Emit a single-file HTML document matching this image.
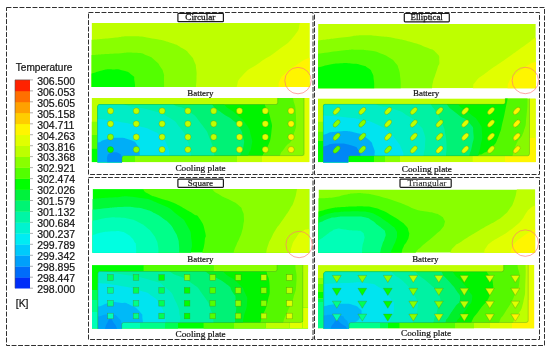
<!DOCTYPE html>
<html lang="en">
<head>
<meta charset="utf-8">
<title>Temperature contours</title>
<style>
html,body{margin:0;padding:0;background:#fff;}
body{width:550px;height:353px;overflow:hidden;}
svg{display:block;}
.sans{font-family:"Liberation Sans",sans-serif;}
.serif{font-family:"Liberation Serif",serif;}
</style>
</head>
<body>
<svg width="550" height="353" viewBox="0 0 550 353">
<defs>
<clipPath id="cbTL"><rect x="91.6" y="23" width="218" height="64"/></clipPath>
<clipPath id="cbTR"><rect x="318.1" y="24" width="217.7" height="64.3"/></clipPath>
<clipPath id="cbBL"><rect x="92.6" y="189.1" width="216.6" height="63.7"/></clipPath>
<clipPath id="cbBR"><rect x="318.5" y="189.5" width="216.6" height="63.2"/></clipPath>
<clipPath id="cpTL"><rect x="91.6" y="98" width="217.9" height="64.2"/></clipPath>
<clipPath id="ccTL"><path d="M99.6 104.5H275.7Q277.7 104.5 277.7 102.5V96H304V153.6Q304 155.6 302 155.6H124Q122 155.6 122 157.6V164.2H97.6V106.5Q97.6 104.5 99.6 104.5Z"/></clipPath>
<clipPath id="cpTR"><rect x="318" y="98.4" width="217.8" height="63.8"/></clipPath>
<clipPath id="ccTR"><path d="M325.3 104.3H503.3Q505.3 104.3 505.3 102.3V96.4H529.5V153.8Q529.5 155.8 527.5 155.8H350.2Q348.2 155.8 348.2 157.8V164.2H323.3V106.3Q323.3 104.3 325.3 104.3Z"/></clipPath>
<clipPath id="cpBL"><rect x="92" y="265.1" width="216.2" height="63.7"/></clipPath>
<clipPath id="ccBL"><path d="M99.9 271.5H275Q277 271.5 277 269.5V263.1H302.8V320.5Q302.8 322.5 300.8 322.5H123.7Q121.7 322.5 121.7 324.5V330.8H97.9V273.5Q97.9 271.5 99.9 271.5Z"/></clipPath>
<clipPath id="cpBR"><rect x="318" y="265.1" width="216.3" height="63.4"/></clipPath>
<clipPath id="ccBR"><path d="M325.7 271.7H501.7Q503.7 271.7 503.7 269.7V263.1H528.2V320.5Q528.2 322.5 526.2 322.5H351Q349 322.5 349 324.5V330.5H323.7V273.7Q323.7 271.7 325.7 271.7Z"/></clipPath>
</defs>
<rect width="550" height="353" fill="#fff"/>
<g id="frames">
<rect x="6.5" y="7.5" width="538" height="338" stroke="#303030" stroke-width="1" fill="none" stroke-dasharray="4.9 1.6"/>
<rect x="88.5" y="12.5" width="224.5" height="162" stroke="#303030" stroke-width="1" fill="none" stroke-dasharray="4.9 1.6"/>
<rect x="314.5" y="12.5" width="225" height="162" stroke="#303030" stroke-width="1" fill="none" stroke-dasharray="4.9 1.6"/>
<rect x="88.5" y="177.5" width="224.5" height="162" stroke="#303030" stroke-width="1" fill="none" stroke-dasharray="4.9 1.6"/>
<rect x="314.5" y="177.5" width="225" height="162" stroke="#303030" stroke-width="1" fill="none" stroke-dasharray="4.9 1.6"/>
</g>
<g id="legend">
<rect x="15" y="277.2" width="15" height="11.3" fill="#002df8"/>
<rect x="15" y="266.3" width="15" height="11.3" fill="#006cfa"/>
<rect x="15" y="255.3" width="15" height="11.3" fill="#00a0fb"/>
<rect x="15" y="244.3" width="15" height="11.3" fill="#00cafb"/>
<rect x="15" y="233.4" width="15" height="11.3" fill="#00ecf3"/>
<rect x="15" y="222.4" width="15" height="11.3" fill="#00f3d0"/>
<rect x="15" y="211.5" width="15" height="11.3" fill="#00f6a5"/>
<rect x="15" y="200.5" width="15" height="11.3" fill="#00f473"/>
<rect x="15" y="189.5" width="15" height="11.3" fill="#00f23c"/>
<rect x="15" y="178.6" width="15" height="11.3" fill="#00ff00"/>
<rect x="15" y="167.6" width="15" height="11.3" fill="#53ff00"/>
<rect x="15" y="156.6" width="15" height="11.3" fill="#89ff00"/>
<rect x="15" y="145.7" width="15" height="11.3" fill="#beff00"/>
<rect x="15" y="134.7" width="15" height="11.3" fill="#e1ff00"/>
<rect x="15" y="123.8" width="15" height="11.3" fill="#fff500"/>
<rect x="15" y="112.8" width="15" height="11.3" fill="#ffcd00"/>
<rect x="15" y="101.8" width="15" height="11.3" fill="#ffa100"/>
<rect x="15" y="90.9" width="15" height="11.3" fill="#ff6f00"/>
<rect x="15" y="79.9" width="15" height="11.3" fill="#ff2200"/>
<path d="M15 288.2V79.9H30" stroke="#555" stroke-width="0.6" fill="none"/>
<path d="M30 79.9h3" stroke="#777" stroke-width="0.6"/>
<text class="sans" x="37.2" y="84.7" font-size="10.5" fill="#111" stroke="#111" stroke-width="0.2">306.500</text>
<path d="M30 90.9h3" stroke="#777" stroke-width="0.6"/>
<text class="sans" x="37.2" y="95.7" font-size="10.5" fill="#111" stroke="#111" stroke-width="0.2">306.053</text>
<path d="M30 101.8h3" stroke="#777" stroke-width="0.6"/>
<text class="sans" x="37.2" y="106.6" font-size="10.5" fill="#111" stroke="#111" stroke-width="0.2">305.605</text>
<path d="M30 112.8h3" stroke="#777" stroke-width="0.6"/>
<text class="sans" x="37.2" y="117.6" font-size="10.5" fill="#111" stroke="#111" stroke-width="0.2">305.158</text>
<path d="M30 123.8h3" stroke="#777" stroke-width="0.6"/>
<text class="sans" x="37.2" y="128.6" font-size="10.5" fill="#111" stroke="#111" stroke-width="0.2">304.711</text>
<path d="M30 134.7h3" stroke="#777" stroke-width="0.6"/>
<text class="sans" x="37.2" y="139.5" font-size="10.5" fill="#111" stroke="#111" stroke-width="0.2">304.263</text>
<path d="M30 145.7h3" stroke="#777" stroke-width="0.6"/>
<text class="sans" x="37.2" y="150.5" font-size="10.5" fill="#111" stroke="#111" stroke-width="0.2">303.816</text>
<path d="M30 156.6h3" stroke="#777" stroke-width="0.6"/>
<text class="sans" x="37.2" y="161.4" font-size="10.5" fill="#111" stroke="#111" stroke-width="0.2">303.368</text>
<path d="M30 167.6h3" stroke="#777" stroke-width="0.6"/>
<text class="sans" x="37.2" y="172.4" font-size="10.5" fill="#111" stroke="#111" stroke-width="0.2">302.921</text>
<path d="M30 178.6h3" stroke="#777" stroke-width="0.6"/>
<text class="sans" x="37.2" y="183.4" font-size="10.5" fill="#111" stroke="#111" stroke-width="0.2">302.474</text>
<path d="M30 189.5h3" stroke="#777" stroke-width="0.6"/>
<text class="sans" x="37.2" y="194.3" font-size="10.5" fill="#111" stroke="#111" stroke-width="0.2">302.026</text>
<path d="M30 200.5h3" stroke="#777" stroke-width="0.6"/>
<text class="sans" x="37.2" y="205.3" font-size="10.5" fill="#111" stroke="#111" stroke-width="0.2">301.579</text>
<path d="M30 211.5h3" stroke="#777" stroke-width="0.6"/>
<text class="sans" x="37.2" y="216.3" font-size="10.5" fill="#111" stroke="#111" stroke-width="0.2">301.132</text>
<path d="M30 222.4h3" stroke="#777" stroke-width="0.6"/>
<text class="sans" x="37.2" y="227.2" font-size="10.5" fill="#111" stroke="#111" stroke-width="0.2">300.684</text>
<path d="M30 233.4h3" stroke="#777" stroke-width="0.6"/>
<text class="sans" x="37.2" y="238.2" font-size="10.5" fill="#111" stroke="#111" stroke-width="0.2">300.237</text>
<path d="M30 244.3h3" stroke="#777" stroke-width="0.6"/>
<text class="sans" x="37.2" y="249.1" font-size="10.5" fill="#111" stroke="#111" stroke-width="0.2">299.789</text>
<path d="M30 255.3h3" stroke="#777" stroke-width="0.6"/>
<text class="sans" x="37.2" y="260.1" font-size="10.5" fill="#111" stroke="#111" stroke-width="0.2">299.342</text>
<path d="M30 266.3h3" stroke="#777" stroke-width="0.6"/>
<text class="sans" x="37.2" y="271.1" font-size="10.5" fill="#111" stroke="#111" stroke-width="0.2">298.895</text>
<path d="M30 277.2h3" stroke="#777" stroke-width="0.6"/>
<text class="sans" x="37.2" y="282" font-size="10.5" fill="#111" stroke="#111" stroke-width="0.2">298.447</text>
<path d="M30 288.2h3" stroke="#777" stroke-width="0.6"/>
<text class="sans" x="37.2" y="293" font-size="10.5" fill="#111" stroke="#111" stroke-width="0.2">298.000</text>
<text class="sans" x="15.8" y="70.5" font-size="10.1" fill="#111" stroke="#111" stroke-width="0.2">Temperature</text>
<text class="sans" x="15.8" y="307.2" font-size="10.4" fill="#111" stroke="#111" stroke-width="0.2">[K]</text>
</g>
<g id="batTL" clip-path="url(#cbTL)">
<rect x="91.6" y="23" width="218" height="64" fill="#beff00"/>
<path fill="#89ff00" d="M86 40C87.9 39.9 83 40.5 91.7 39.8C100.4 39.1 98.2 39.2 112 38C125.8 36.8 119.7 36.1 133 36.3C146.3 36.5 139.8 36.5 152 38.5C164.2 40.5 159.6 39.2 169.6 42.4C179.6 45.6 175.2 43.9 182 48C188.8 52.1 185.8 50 190 54.7C194.2 59.4 192.4 57.2 194.5 62C196.6 66.8 195.5 63.7 196.2 69C196.9 74.3 196.6 72 196.5 78C196.4 84 196.2 82 196 87C195.8 92 196 91 196 93L80 93Z"/>
<path fill="#53ff00" d="M86 55.3C87.9 55.2 82 55.7 91.7 55.1C101.4 54.5 100.6 54.3 115 53.5C129.4 52.7 124.3 52 135 52.7C145.7 53.4 140.2 52.8 147 55.5C153.8 58.2 150.8 57 155.3 60.8C159.8 64.6 157.8 62.9 160.5 67C163.2 71.1 162.3 68.7 163.5 73C164.7 77.3 163.8 73.3 164 80C164.2 86.7 164 88.7 164 93L80 93Z"/>
<path fill="#00ff00" d="M86 74C87.9 73.8 86.4 74.7 91.7 73.5C97 72.3 95.1 71.9 102 70.5C108.9 69.1 105.5 69.4 112.5 69.4C119.5 69.4 116.5 68.6 123 70.5C129.5 72.4 128.1 71.6 131.9 75.1C135.7 78.6 133.5 75 134.5 81C135.5 87 134.8 89 135 93L80 93Z"/>
<path fill="#e1ff00" d="M300.5 17C300.3 19 302.2 16.6 300 23C297.8 29.4 301.4 27.1 293.9 36.3C286.4 45.5 289.2 41.7 277.6 50.6C266 59.5 270.8 54.7 259.2 62.9C247.6 71.1 250.4 67.1 242.9 75.1C235.4 83.1 239 81 236.7 87C234.4 93 236.2 91 236 93L320 93L320 17Z"/>
<path fill="#fff500" d="M316 57C313.9 57.3 315.6 55.5 309.6 57.8C303.6 60.1 306 58.8 298 63.9C290 69 291.7 67.6 285.7 73C279.7 78.4 282.4 75.3 280 80C277.6 84.7 279.1 82.7 278.6 87C278.1 91.3 278.5 91 278.5 93L320 93Z"/>
</g>
<circle cx="298" cy="80.6" r="13.2" fill="none" stroke="#ff7474" stroke-width="0.65"/>
<g id="batTR" clip-path="url(#cbTR)">
<rect x="318.1" y="24" width="217.7" height="64.3" fill="#beff00"/>
<path fill="#89ff00" d="M312 40.6C314 40.5 307.2 41.5 318.1 40.4C329 39.3 329.6 39 344.6 37.3C359.6 35.6 351.2 35.6 363 35.3C374.8 35 369.1 35.3 380 36.3C390.9 37.3 385.3 36.5 395.6 38.4C405.9 40.3 400.9 39 411 42C421.1 45 417.6 43.7 426 47.3C434.4 50.9 431.8 48.2 436.2 52.7C440.6 57.2 438.9 55.7 439.3 60.8C439.7 65.9 438.9 63.2 437.5 68C436.1 72.8 436.7 70.4 435.2 75.1C433.7 79.8 434 77.7 433 82C432 86.3 432.4 84 432.1 88C431.8 92 432 92 432 94L310 94Z"/>
<path fill="#53ff00" d="M312 54C314 53.9 307.2 55 318.1 53.7C329 52.4 331.6 51.5 344.6 50.2C357.6 48.9 348.8 49.6 357 49.7C365.2 49.8 361.4 49.4 369.1 50.6C376.8 51.8 373.2 50.8 380 53.2C386.8 55.6 384.3 54.5 389.5 57.8C394.7 61.1 392.4 59.3 395.5 63C398.6 66.7 397.1 64 398.7 69C400.3 74 399.6 71.7 400.3 78C401 84.3 400.6 82.7 400.7 88C400.8 93.3 400.7 92 400.7 94L310 94Z"/>
<path fill="#00ff00" d="M312 67.6C314 67.5 312.4 68.2 318.1 67.3C323.8 66.4 321.5 66.1 329 64.8C336.5 63.5 333.2 63.7 340.5 63.3C347.8 62.9 344.2 63 351 63.5C357.8 64 355.3 63.4 361 64.9C366.7 66.4 364.3 65.3 368 68C371.7 70.7 370.3 69 372.2 73C374.1 77 373.1 75 373.8 80C374.5 85 374.1 83.3 374.2 88C374.3 92.7 374.2 92 374.2 94L310 94Z"/>
<path fill="#e1ff00" d="M542 36.6C540.1 36.8 541.5 34.7 536.2 37.3C530.9 39.9 535.5 37.7 526 44.5C516.5 51.3 520.5 48.6 507.6 57.8C494.7 67 497.7 64.2 487.2 72C476.7 79.8 480.7 75.9 476 81.2C471.3 86.5 474.2 83.7 473 88C471.8 92.3 472.7 92 472.5 94L545 94Z"/>
<path fill="#fff500" d="M542 61C540.1 61.3 541.5 60 536.2 61.8C530.9 63.6 533.5 61.7 526 66.5C518.5 71.3 519.5 70.9 513.8 76.1C508.1 81.3 511.1 78 509 82C506.9 86 508.1 84 507.6 88C507.1 92 507.5 92 507.5 94L545 94Z"/>
</g>
<circle cx="525.3" cy="80.5" r="13.2" fill="none" stroke="#ff7474" stroke-width="0.65"/>
<g id="batBL" clip-path="url(#cbBL)">
<rect x="92.6" y="189.1" width="216.6" height="63.7" fill="#00ff00"/>
<path fill="#00fa36" d="M86 199.2C88.2 199.1 83.8 199.6 92.5 199C101.2 198.4 97.5 198.1 112 197.5C126.5 196.9 120 195.1 136 197.3C152 199.5 146.3 198.3 160 204C173.7 209.7 167.8 207.2 177 214.5C186.2 221.8 182.7 217.5 187.5 226C192.3 234.5 190.3 231.2 191.5 240C192.7 248.8 191.2 246.3 191 252.3C190.8 258.3 191 256.1 191 258L80 258Z"/>
<path fill="#00ff89" d="M86 209.6C88.2 209.6 85 210.1 92.5 209.5C100 208.9 98.6 208.7 108.4 207.9C118.2 207.1 113.2 207.2 122 207C130.8 206.8 126.9 206.6 134.9 207.4C142.9 208.2 139.2 207.4 146 209.5C152.8 211.6 149.6 210.6 155.3 213.6C161 216.6 158.2 215.1 163 218.5C167.8 221.9 165.8 219.6 169.6 223.8C173.4 228 171.8 226.3 174.5 231C177.2 235.7 176.3 233.3 177.8 238C179.3 242.7 178.5 240.2 179 245C179.5 249.8 179.1 248 179.2 252.3C179.3 256.6 179.2 256.1 179.2 258L80 258Z"/>
<path fill="#00ffb7" d="M86 221C88.2 220.9 85 221.8 92.5 220.7C100 219.6 99.7 218.7 108.4 217.7C117.1 216.7 111.7 217.3 118.5 217.6C125.3 217.9 122 217.1 128.8 218.7C135.6 220.3 132.9 219.4 139 222.5C145.1 225.6 142.7 224.2 147.2 227.9C151.7 231.6 149.4 229.4 152.5 233.5C155.6 237.6 154.6 235.9 156.4 240.1C158.2 244.3 157.3 241.9 158 246C158.7 250.1 158.3 248.3 158.4 252.3C158.5 256.3 158.4 256.1 158.4 258L80 258Z"/>
<path fill="#00ffe1" d="M86 235.4C88.2 235.3 87.8 235.9 92.5 235C97.2 234.1 94.7 234 100 232.8C105.3 231.6 103.6 232 108.4 231.5C113.2 231 110.4 231.2 114.5 231.2C118.6 231.2 116.5 230.6 120.7 231.5C124.9 232.4 123.3 231.8 127 234C130.7 236.2 129.4 235.3 131.9 238C134.4 240.7 133.1 239.3 134.5 242C135.9 244.7 135.5 240.9 136 246.2C136.5 251.5 136 254.1 136 258L80 258Z"/>
<path fill="#53ff00" d="M143 183C143 185 141 185.3 143.1 189C145.2 192.7 143.9 191.2 149.2 194.2C154.5 197.2 152.2 195.6 159 198C165.8 200.4 163.3 199 169.6 201.3C175.9 203.6 172.5 202.3 178 205C183.5 207.7 180.8 206.5 186 209.5C191.2 212.5 188.8 210.8 193.5 214C198.2 217.2 196.1 213.2 200 219.2C203.9 225.2 203.5 225.1 205.1 232C206.7 238.9 205.2 235.3 204.8 240C204.4 244.7 204.8 242.1 204 246.2C203.2 250.3 203.1 248.4 202.4 252.3C201.7 256.2 202.1 256.1 202 258L320 258L320 183Z"/>
<path fill="#89ff00" d="M211 183C211.4 185 209.1 184.9 212.2 189C215.3 193.1 214.5 191.5 220.4 195.2C226.3 198.9 223.9 196.6 230 200C236.1 203.4 234.6 201.7 238.8 205.4C243 209.1 240.8 206.9 242.5 211C244.2 215.1 243.6 213 243.9 217.7C244.2 222.4 244 220.2 243.3 225C242.6 229.8 243.1 227.5 241.8 232C240.5 236.5 241 234.4 239.3 238.5C237.6 242.6 238.6 239.6 236.7 244.2C234.8 248.8 234.9 247.7 233.7 252.3C232.5 256.9 233.2 256.1 233 258L320 258L320 183Z"/>
<path fill="#beff00" d="M297.3 183C297.2 185 298.1 182.9 297 189C295.9 195.1 296.2 194.8 293.9 201.3C291.6 207.8 292.9 203.7 290.2 208.5C287.5 213.3 288.9 210.8 285.7 215.6C282.5 220.4 283.9 218.2 280.5 223C277.1 227.8 278.5 225.1 275.5 229.9C272.5 234.7 273.9 232.7 271.5 237.5C269.1 242.3 270.1 239.3 268.4 244.2C266.7 249.1 267.1 247.7 266.3 252.3C265.5 256.9 266.1 256.1 266 258L320 258L320 183Z"/>
<path fill="#e1ff00" d="M316 228.5C313.7 228.6 313.9 227.9 309.2 228.9C304.5 229.9 306.4 228.5 302 231.5C297.6 234.5 299.3 233.1 295.9 238C292.5 242.9 293.5 241.4 291.8 246.2C290.1 251 291.2 248.4 290.8 252.3C290.4 256.2 290.7 256.1 290.7 258L320 258Z"/>
</g>
<circle cx="299.1" cy="244.5" r="13.2" fill="none" stroke="#ff7474" stroke-width="0.65"/>
<g id="batBR" clip-path="url(#cbBR)">
<rect x="318.5" y="189.5" width="216.6" height="63.2" fill="#89ff00"/>
<path fill="#53ff00" d="M312 198.5C314.2 198.4 311 198.7 318.5 198.3C326 197.9 325.6 198.4 334.4 197.2C343.2 196 338.2 196.1 345 194.8C351.8 193.5 348.1 193.6 354.8 193.2C361.5 192.8 358.2 192.8 365 193.5C371.8 194.2 368.4 193.7 375.2 195.2C382 196.7 378.7 196 385.5 198C392.3 200 388.8 198.9 395.6 201.3C402.4 203.7 399.2 202.5 406 205.2C412.8 207.9 409.3 207.4 416 209.5C422.7 211.6 420 210.3 426 211.5C432 212.7 429.2 211.6 434 213C438.8 214.4 437 213.4 440.3 215.6C443.6 217.8 442.6 216.8 444 219.5C445.4 222.2 445.2 220.6 444.4 223.8C443.6 227 444.2 225.6 441.5 229C438.8 232.4 440.7 230 436.2 234C431.7 238 433.1 236.8 428 241.1C422.9 245.4 425 243.3 421 247C417 250.7 418.3 248.6 416 252.3C413.7 256 414.7 256.1 414 258L310 258Z"/>
<path fill="#00ff00" d="M312 211.7C314.2 211.6 312.4 212.6 318.5 211.5C324.6 210.4 322.5 210 330.3 208.5C338.1 207 333.8 207.7 342 207C350.2 206.3 347.5 206.6 354.8 206.4C362.1 206.2 357.9 206.1 364 206.4C370.1 206.7 366.9 205.9 373.2 207.4C379.5 208.9 376.9 208.1 383 210.8C389.1 213.5 386.1 212.4 391.6 215.6C397.1 218.8 394.8 217.1 399.5 220.5C404.2 223.9 402.8 222.3 405.8 225.8C408.8 229.3 407.5 227.6 408.5 231C409.5 234.4 409.5 232.5 408.9 236C408.3 239.5 408.5 238.1 406.8 241.5C405.1 244.9 405.5 242.6 403.8 246.2C402.1 249.8 402.6 248.4 401.8 252.3C401 256.2 401.6 256.1 401.5 258L310 258Z"/>
<path fill="#00fa36" d="M312 217.5C314.2 217.4 312.7 218.5 318.5 217.2C324.3 215.9 322.1 215.3 329.3 213.6C336.5 211.9 333.1 212.7 340 212C346.9 211.3 343.3 211.7 350 211.5C356.7 211.3 353.7 211.2 360 211.5C366.3 211.8 363.3 211 369 212.3C374.7 213.6 371.8 212.9 377 215.5C382.2 218.1 379.8 217 384.5 220.2C389.2 223.4 387.3 221.9 391 225C394.7 228.1 393.6 226.1 395.6 229.4C397.6 232.7 396.9 231.5 397 235C397.1 238.5 397.3 236 396 240C394.7 244 394.7 242.9 393 247C391.3 251.1 391.7 248.6 391 252.3C390.3 256 391 256.1 391 258L310 258Z"/>
<path fill="#00ff89" d="M312 223.2C314.2 223.1 313.1 224.3 318.5 222.8C323.9 221.3 322.5 220.6 328.3 218.7C334.1 216.8 330.6 217.9 336 217.2C341.4 216.5 338.3 216.8 344.6 216.6C350.9 216.4 348.2 216.3 355 216.5C361.8 216.7 359.3 215.9 365 217.2C370.7 218.5 367.9 218 372 220.5C376.1 223 373.8 222 377.3 224.8C380.8 227.6 379.8 226.1 382.5 228.8C385.2 231.5 384.7 229.6 385.4 233C386.1 236.4 385.5 235.3 384.5 239C383.5 242.7 383.8 239.8 382.4 244.2C381 248.6 381.1 247.7 380.3 252.3C379.5 256.9 380.1 256.1 380 258L310 258Z"/>
<path fill="#00ffb7" d="M312 241C314.2 240.7 313.8 242.1 318.5 240.1C323.2 238.1 322 237.9 326.2 235C330.4 232.1 327.6 233.5 331 231.5C334.4 229.5 332.4 229.7 336.4 228.9C340.4 228.1 338.2 228.7 343 229.2C347.8 229.7 346 229.8 350.7 230.3C355.4 230.8 353.2 230.1 357 230.6C360.8 231.1 359.6 230.2 362 231.9C364.4 233.6 363.5 233.1 364.2 235.8C364.9 238.5 364.6 236.7 364 240.1C363.4 243.5 363.2 241.9 362.5 246C361.8 250.1 362.2 248.3 362 252.3C361.8 256.3 362 256.1 362 258L310 258Z"/>
<path fill="#beff00" d="M517 183C516.9 185.2 517.9 183.4 516.8 189.5C515.7 195.6 516.2 194.8 513.8 201.3C511.4 207.8 512.9 204.2 509.5 209C506.1 213.8 508.1 211.6 503.6 215.6C499.1 219.6 501.5 217.6 496 221C490.5 224.4 493.5 222.2 487.2 225.8C480.9 229.4 483.8 227.7 477 231.8C470.2 235.9 472.5 234.4 466.8 238C461.1 241.6 464.1 239.8 460 242.5C455.9 245.2 457.8 242.9 454.6 246.2C451.4 249.5 452 248.4 450.5 252.3C449 256.2 450.2 256.1 450 258L545 258L545 183Z"/>
<path fill="#e1ff00" d="M542 205C539.9 205.1 539.8 204.2 535.8 205.4C531.8 206.6 533.4 205.6 530 208.5C526.6 211.4 528.2 210.3 525.5 214C522.8 217.7 525.2 215.7 521.9 219.7C518.6 223.7 520.3 221.9 515.5 226C510.7 230.1 512.9 228.2 507.6 231.9C502.3 235.6 504.9 233.6 499.5 237C494.1 240.4 495.6 238.8 491.3 242.1C487 245.4 488.9 243.6 486.5 247C484.1 250.4 485 248.6 484.2 252.3C483.4 256 484.1 256.1 484 258L545 258Z"/>
<path fill="#fff500" d="M542 228.5C539.9 228.6 540.5 227.4 535.8 228.9C531.1 230.4 532.8 230.1 528 233C523.2 235.9 525.6 234.5 521.5 237.5C517.4 240.5 518.9 238.8 515.8 242.1C512.7 245.4 513.9 244.1 512.2 247.5C510.5 250.9 511.3 248.8 510.7 252.3C510.1 255.8 510.6 256.1 510.5 258L545 258Z"/>
</g>
<circle cx="525.3" cy="243.1" r="13.2" fill="none" stroke="#ff7474" stroke-width="0.65"/>
<text class="serif" x="185.3" y="20.4" font-size="8.7" textLength="30" lengthAdjust="spacingAndGlyphs" fill="#1a1a1a" stroke="#1a1a1a" stroke-width="0.3">Circular</text>
<rect x="177.9" y="13.4" width="45.5" height="8.3" rx="0.8" fill="none" stroke="#1a1a1a" stroke-width="1.2"/>
<text class="serif" x="410.5" y="20.4" font-size="8.7" textLength="32.3" lengthAdjust="spacingAndGlyphs" fill="#1a1a1a" stroke="#1a1a1a" stroke-width="0.3">Elliptical</text>
<rect x="404.3" y="13.5" width="45" height="8.3" rx="0.8" fill="none" stroke="#1a1a1a" stroke-width="1.2"/>
<text class="serif" x="187.8" y="186" font-size="8.7" textLength="25.3" lengthAdjust="spacingAndGlyphs" fill="#1a1a1a" stroke="#1a1a1a" stroke-width="0.2">Square</text>
<rect x="177.9" y="179.1" width="45.5" height="8.3" rx="0.8" fill="none" stroke="#1a1a1a" stroke-width="1.2"/>
<text class="serif" x="407.4" y="186" font-size="8.2" textLength="39" lengthAdjust="spacingAndGlyphs" fill="#1a1a1a" stroke="#1a1a1a" stroke-width="0.05">Triangular</text>
<rect x="400" y="179.1" width="51.2" height="8.3" rx="0.8" fill="none" stroke="#1a1a1a" stroke-width="1.2"/>
<text class="serif" x="187.3" y="95.6" font-size="9.1" textLength="26.2" lengthAdjust="spacingAndGlyphs" fill="#111" stroke="#111" stroke-width="0.2">Battery</text>
<text class="serif" x="175.4" y="171.1" font-size="9.1" textLength="50.2" lengthAdjust="spacingAndGlyphs" fill="#111" stroke="#111" stroke-width="0.2">Cooling plate</text>
<text class="serif" x="413" y="96.3" font-size="9.1" textLength="26.2" lengthAdjust="spacingAndGlyphs" fill="#111" stroke="#111" stroke-width="0.2">Battery</text>
<text class="serif" x="401.8" y="171.9" font-size="9.1" textLength="50.2" lengthAdjust="spacingAndGlyphs" fill="#111" stroke="#111" stroke-width="0.2">Cooling plate</text>
<text class="serif" x="187.3" y="262.3" font-size="9.1" textLength="26.2" lengthAdjust="spacingAndGlyphs" fill="#111" stroke="#111" stroke-width="0.2">Battery</text>
<text class="serif" x="175.5" y="337.1" font-size="9.1" textLength="50.2" lengthAdjust="spacingAndGlyphs" fill="#111" stroke="#111" stroke-width="0.2">Cooling plate</text>
<text class="serif" x="412.2" y="261.8" font-size="9.1" textLength="26.2" lengthAdjust="spacingAndGlyphs" fill="#111" stroke="#111" stroke-width="0.2">Battery</text>
<text class="serif" x="401" y="336.3" font-size="9.1" textLength="50.2" lengthAdjust="spacingAndGlyphs" fill="#111" stroke="#111" stroke-width="0.2">Cooling plate</text>
<g id="plateTL" clip-path="url(#cpTL)">
<rect x="91.6" y="98" width="217.9" height="64.2" fill="#beff00"/>
<path fill="#89ff00" d="M91.6 121.8L98 121.8L98 135L91.6 135Z"/>
<path fill="#53ff00" d="M91.6 135L98 135L98 148.6L91.6 148.6Z"/>
<path fill="#00ff00" d="M91.6 148.6L98 148.6L98 162.2L91.6 162.2Z"/>
<path fill="#53ff00" d="M122 156L135 156L135 162.2L122 162.2Z"/>
<path fill="#89ff00" d="M135 156L237 156L237 162.2L135 162.2Z"/>
<path fill="#beff00" d="M237 156L262 156L262 162.2L237 162.2Z"/>
<path fill="#e1ff00" d="M262 156L304.5 156L304.5 98L309.5 98L309.5 162.2L262 162.2Z"/>
<g clip-path="url(#ccTL)">
<rect x="91.6" y="98" width="217.9" height="64.2" fill="#87fa00"/>
<path fill="#55f800" d="M292.5 92C292.7 94 291.8 90.1 293 98C294.2 105.9 295.9 103.2 296 115.8C296.1 128.4 296.9 125.1 293.2 135.7C289.5 146.3 289.4 141 285 147.6C280.6 154.2 282 150 280 155.5C278 161 279.3 161.2 279 164L60 175L60 85Z"/>
<path fill="#00f400" d="M264.5 97C264.6 99.4 262.8 97.2 264.7 104.1C266.6 111 268 108 270.2 117.6C272.4 127.2 272.4 122.7 271.3 132.9C270.2 143.1 269.8 140.6 266.9 148.2C264 155.8 264.5 150.5 262.5 155.8C260.5 161.1 261.5 161.3 261 164L60 175L60 85Z"/>
<path fill="#00f02a" d="M223 97C223.3 99.4 219.7 98.6 224 104.3C228.3 110 228.7 107.4 236 114C243.3 120.6 241 116.7 246 124C251 131.3 249.2 128.7 251 136C252.8 143.3 252.5 139.4 251.5 146C250.5 152.6 249.5 149.8 248 155.8C246.5 161.8 247.3 161.3 247 164L60 175L60 85Z"/>
<path fill="#00f276" d="M211 97C211.3 99.4 208.3 99 212 104.3C215.7 109.6 215.3 107.9 222 113C228.7 118.1 226.3 114.8 232 119.5C237.7 124.2 235.3 121.2 239 127C242.7 132.8 241.5 130.7 243 137C244.5 143.3 244.5 139.7 243.5 146C242.5 152.3 241.5 149.8 240 155.8C238.5 161.8 239.3 161.3 239 164L60 175L60 85Z"/>
<path fill="#00f2a3" d="M172 97C172.4 99.4 167.6 99.4 173.1 104.1C178.6 108.8 178.9 104.4 188.4 111.1C197.9 117.8 194.2 114.7 201.5 124.2C208.8 133.7 205.9 129 210.2 139.5C214.5 150 212.9 147.6 214.5 155.8C216.1 164 214.8 161.3 215 164L60 175L60 85Z"/>
<path fill="#00edc6" d="M120 97C121.3 99.4 114 100 124 104.3C134 108.6 135.3 105.8 150 110C164.7 114.2 158 111.2 168 117C178 122.8 173.7 119.8 180 127.5C186.3 135.2 183.7 132.5 187 140C190.3 147.5 188.7 144.7 190 150C191.3 155.3 190.7 151.3 191 156C191.3 160.7 191 161.3 191 164L60 175L60 85Z"/>
<path fill="#00e4f0" d="M90 118.5C92.6 118.7 87.9 117.8 97.9 119C107.9 120.2 106 119.5 120 122C134 124.5 129.3 123.7 140 126.5C150.7 129.3 145 127.2 152 130.5C159 133.8 156 131.7 161 136.5C166 141.3 164.2 138.5 167 145C169.8 151.5 168.7 149.7 169.5 156C170.3 162.3 169.5 161.3 169.5 164L60 175Z"/>
<path fill="#00aef7" d="M90 143C92.6 142.9 92.9 143.7 97.9 142.6C102.9 141.5 98.9 141.3 104.9 139.7C110.9 138.1 107.5 137.7 115.8 137.7C124.1 137.7 122.4 137.1 129.7 139.7C137 142.3 134.3 141.3 137.6 145.6C140.9 149.9 138.9 146.4 139.6 152.5C140.3 158.6 139.6 160.2 139.6 164L60 175Z"/>
<path fill="#008ef7" d="M106.5 170C106.7 167.3 107 166.3 107.2 162C107.4 157.7 106.4 159.8 107.2 157C108 154.2 107.2 155.1 109.5 153.5C111.8 151.9 110.9 152.4 114 152.3C117.1 152.2 116.2 151.9 118.8 153.3C121.4 154.7 120.6 153.6 121.7 156.5C122.8 159.4 121.9 157.5 122 162C122.1 166.5 122 167.3 122 170Z"/>
</g>
<path d="M99.6 104.5H275.7Q277.7 104.5 277.7 102.5V96H304V153.6Q304 155.6 302 155.6H124Q122 155.6 122 157.6V164.2H97.6V106.5Q97.6 104.5 99.6 104.5Z" fill="none" stroke="#3c8c28" stroke-width="0.6" stroke-opacity="0.55"/>
<circle cx="110.5" cy="110.9" r="3.1" fill="#beff00" stroke="#5a7a10" stroke-width="0.5" stroke-opacity="0.6"/>
<circle cx="110.5" cy="123.8" r="3.1" fill="#beff00" stroke="#5a7a10" stroke-width="0.5" stroke-opacity="0.6"/>
<circle cx="110.5" cy="137" r="3.1" fill="#89ff00" stroke="#5a7a10" stroke-width="0.5" stroke-opacity="0.6"/>
<circle cx="110.5" cy="149.6" r="3.1" fill="#00ff00" stroke="#5a7a10" stroke-width="0.5" stroke-opacity="0.6"/>
<circle cx="136.3" cy="110.9" r="3.1" fill="#beff00" stroke="#5a7a10" stroke-width="0.5" stroke-opacity="0.6"/>
<circle cx="136.3" cy="123.8" r="3.1" fill="#beff00" stroke="#5a7a10" stroke-width="0.5" stroke-opacity="0.6"/>
<circle cx="136.3" cy="137" r="3.1" fill="#beff00" stroke="#5a7a10" stroke-width="0.5" stroke-opacity="0.6"/>
<circle cx="136.3" cy="149.6" r="3.1" fill="#89ff00" stroke="#5a7a10" stroke-width="0.5" stroke-opacity="0.6"/>
<circle cx="162.1" cy="110.9" r="3.1" fill="#beff00" stroke="#5a7a10" stroke-width="0.5" stroke-opacity="0.6"/>
<circle cx="162.1" cy="123.8" r="3.1" fill="#beff00" stroke="#5a7a10" stroke-width="0.5" stroke-opacity="0.6"/>
<circle cx="162.1" cy="137" r="3.1" fill="#beff00" stroke="#5a7a10" stroke-width="0.5" stroke-opacity="0.6"/>
<circle cx="162.1" cy="149.6" r="3.1" fill="#beff00" stroke="#5a7a10" stroke-width="0.5" stroke-opacity="0.6"/>
<circle cx="187.9" cy="110.9" r="3.1" fill="#beff00" stroke="#5a7a10" stroke-width="0.5" stroke-opacity="0.6"/>
<circle cx="187.9" cy="123.8" r="3.1" fill="#beff00" stroke="#5a7a10" stroke-width="0.5" stroke-opacity="0.6"/>
<circle cx="187.9" cy="137" r="3.1" fill="#beff00" stroke="#5a7a10" stroke-width="0.5" stroke-opacity="0.6"/>
<circle cx="187.9" cy="149.6" r="3.1" fill="#beff00" stroke="#5a7a10" stroke-width="0.5" stroke-opacity="0.6"/>
<circle cx="213.7" cy="110.9" r="3.1" fill="#beff00" stroke="#5a7a10" stroke-width="0.5" stroke-opacity="0.6"/>
<circle cx="213.7" cy="123.8" r="3.1" fill="#beff00" stroke="#5a7a10" stroke-width="0.5" stroke-opacity="0.6"/>
<circle cx="213.7" cy="137" r="3.1" fill="#beff00" stroke="#5a7a10" stroke-width="0.5" stroke-opacity="0.6"/>
<circle cx="213.7" cy="149.6" r="3.1" fill="#beff00" stroke="#5a7a10" stroke-width="0.5" stroke-opacity="0.6"/>
<circle cx="239.5" cy="110.9" r="3.1" fill="#e1ff00" stroke="#5a7a10" stroke-width="0.5" stroke-opacity="0.6"/>
<circle cx="239.5" cy="123.8" r="3.1" fill="#e1ff00" stroke="#5a7a10" stroke-width="0.5" stroke-opacity="0.6"/>
<circle cx="239.5" cy="137" r="3.1" fill="#e1ff00" stroke="#5a7a10" stroke-width="0.5" stroke-opacity="0.6"/>
<circle cx="239.5" cy="149.6" r="3.1" fill="#e1ff00" stroke="#5a7a10" stroke-width="0.5" stroke-opacity="0.6"/>
<circle cx="265.3" cy="110.9" r="3.1" fill="#e1ff00" stroke="#5a7a10" stroke-width="0.5" stroke-opacity="0.6"/>
<circle cx="265.3" cy="123.8" r="3.1" fill="#e1ff00" stroke="#5a7a10" stroke-width="0.5" stroke-opacity="0.6"/>
<circle cx="265.3" cy="137" r="3.1" fill="#e1ff00" stroke="#5a7a10" stroke-width="0.5" stroke-opacity="0.6"/>
<circle cx="265.3" cy="149.6" r="3.1" fill="#e1ff00" stroke="#5a7a10" stroke-width="0.5" stroke-opacity="0.6"/>
<circle cx="291.1" cy="110.9" r="3.1" fill="#fff500" stroke="#5a7a10" stroke-width="0.5" stroke-opacity="0.6"/>
<circle cx="291.1" cy="123.8" r="3.1" fill="#fff500" stroke="#5a7a10" stroke-width="0.5" stroke-opacity="0.6"/>
<circle cx="291.1" cy="137" r="3.1" fill="#fff500" stroke="#5a7a10" stroke-width="0.5" stroke-opacity="0.6"/>
<circle cx="291.1" cy="149.6" r="3.1" fill="#fff500" stroke="#5a7a10" stroke-width="0.5" stroke-opacity="0.6"/>
</g>
<g id="plateTR" clip-path="url(#cpTR)">
<rect x="318" y="98.4" width="217.8" height="63.8" fill="#beff00"/>
<path fill="#89ff00" d="M318 121.8L324 121.8L324 131.5L318 131.5Z"/>
<path fill="#53ff00" d="M318 131.5L324 131.5L324 141L318 141Z"/>
<path fill="#00ff00" d="M318 141L324 141L324 162.2L318 162.2Z"/>
<path fill="#00ff00" d="M348 155.5L374 155.5L374 162.2L348 162.2Z"/>
<path fill="#53ff00" d="M374 155.5L385 155.5L385 162.2L374 162.2Z"/>
<path fill="#89ff00" d="M385 155.5L400 155.5L400 162.2L385 162.2Z"/>
<path fill="#e1ff00" d="M472.7 155.5L529.5 155.5L529.5 98.4L535.8 98.4L535.8 162.2L472.7 162.2Z"/>
<path fill="#fff500" d="M529.5 138L535.8 138L535.8 162.2L505 162.2L505 155.5L529.5 155.5Z"/>
<g clip-path="url(#ccTR)">
<rect x="318" y="98.4" width="217.8" height="63.8" fill="#87fa00"/>
<path fill="#55f800" d="M527.5 92C527.5 94.1 527.8 90.5 527.5 98.4C527.2 106.3 527.8 104.7 526.5 115.8C525.2 126.9 526.9 122.4 523.6 131.7C520.3 141 520.2 135.8 516.6 143.6C513 151.4 514.6 148.3 512.7 155.1C510.8 161.9 511.6 161 511 164L290 175L290 85Z"/>
<path fill="#00f400" d="M508 92C507.9 94 508.5 92.7 507.7 98C506.9 103.3 507.4 100 505.7 107.9C504 115.8 505 112.5 502.7 121.8C500.4 131.1 502.4 127.1 498.8 135.7C495.2 144.3 497.1 141.7 491.8 147.6C486.5 153.5 487.6 150.7 483 153.5C478.4 156.3 481 152.5 478 156C475 159.5 475.3 161.3 474 164L290 175L290 85Z"/>
<path fill="#00f02a" d="M457 97C457.3 99.4 454 99 458 104.3C462 109.6 462.2 107.1 469 113C475.8 118.9 474.2 115.3 478.5 122C482.8 128.7 481.3 125 482 133C482.7 141 481.8 138.3 480.5 146C479.2 153.7 479.2 150 478 156C476.8 162 477.3 161.3 477 164L290 175L290 85Z"/>
<path fill="#00f276" d="M446 97C446.3 99.4 442.9 98.5 446.8 104.3C450.7 110.1 450.1 108 457.7 114.3C465.3 120.6 464.3 116.7 469.5 123.1C474.7 129.5 472.6 125.9 473.4 133.5C474.2 141.1 473.4 138.5 472 146C470.6 153.5 470.3 150 469.3 156C468.3 162 469.1 161.3 469 164L290 175L290 85Z"/>
<path fill="#00f2a3" d="M430 97C430.3 99.4 429 99.5 431 104.3C433 109.1 433 106.7 436 111.5C439 116.3 437.6 113.9 440 118.7C442.4 123.5 441.6 121.1 443.3 126C445 130.9 444.1 127.2 445.2 133.5C446.3 139.8 446.2 137.5 446.5 145C446.8 152.5 446.2 149.7 446 156C445.8 162.3 446 161.3 446 164L290 175L290 85Z"/>
<path fill="#00edc6" d="M372 97C373.3 99.4 368.7 100.3 376 104.3C383.3 108.3 383.3 105.1 394 109C404.7 112.9 400 111 408 116C416 121 412.7 118.3 418 124C423.3 129.7 421.7 126 424 133C426.3 140 425.2 137.3 425 145C424.8 152.7 424 149.7 423.5 156C423 162.3 423.5 161.3 423.5 164L290 175L290 85Z"/>
<path fill="#00e4f0" d="M316 115.3C318.5 115.4 313.8 114.9 323.5 115.5C333.2 116.1 332.2 115.8 345 117.2C357.8 118.6 351.3 117.4 362 119.8C372.7 122.2 368.3 120.6 377 124.5C385.7 128.4 381.5 126.2 388 131.5C394.5 136.8 391.8 134.3 396.5 140.5C401.2 146.7 399.7 144.8 402 150C404.3 155.2 403 151.3 403.5 156C404 160.7 403.5 161.3 403.5 164L290 175Z"/>
<path fill="#00aef7" d="M316 135C318.5 134.9 316.9 135.8 323.5 134.7C330.1 133.6 325.1 132.4 335.8 131.7C346.5 131 345.1 130.4 355.7 132.7C366.3 135 361.7 133.7 367.6 138.7C373.5 143.7 371.2 141.7 373.5 147.6C375.8 153.5 374.2 151 374.5 156.5C374.8 162 374.5 161.5 374.5 164L290 175Z"/>
<path fill="#0087f6" d="M316 147C318.5 146.9 316.9 147.7 323.5 146.6C330.1 145.5 326.4 143.9 335.8 143.6C345.2 143.3 344.1 143.3 351.7 145.6C359.3 147.9 355.7 147 358.7 150.6C361.7 154.2 360 152 360.6 156.5C361.2 161 360.6 161.5 360.6 164L290 175Z"/>
</g>
<path d="M325.3 104.3H503.3Q505.3 104.3 505.3 102.3V96.4H529.5V153.8Q529.5 155.8 527.5 155.8H350.2Q348.2 155.8 348.2 157.8V164.2H323.3V106.3Q323.3 104.3 325.3 104.3Z" fill="none" stroke="#3c8c28" stroke-width="0.6" stroke-opacity="0.55"/>
<ellipse cx="336.6" cy="110.9" rx="4.4" ry="2.35" transform="rotate(-47 336.6 110.9)" fill="#beff00" stroke="#5a7a10" stroke-width="0.5" stroke-opacity="0.6"/>
<ellipse cx="336.6" cy="123.5" rx="4.4" ry="2.35" transform="rotate(-47 336.6 123.5)" fill="#89ff00" stroke="#5a7a10" stroke-width="0.5" stroke-opacity="0.6"/>
<ellipse cx="336.6" cy="136.7" rx="4.4" ry="2.35" transform="rotate(-47 336.6 136.7)" fill="#89ff00" stroke="#5a7a10" stroke-width="0.5" stroke-opacity="0.6"/>
<ellipse cx="336.6" cy="149.6" rx="4.4" ry="2.35" transform="rotate(-47 336.6 149.6)" fill="#53ff00" stroke="#5a7a10" stroke-width="0.5" stroke-opacity="0.6"/>
<ellipse cx="362.3" cy="110.9" rx="4.4" ry="2.35" transform="rotate(-47 362.3 110.9)" fill="#beff00" stroke="#5a7a10" stroke-width="0.5" stroke-opacity="0.6"/>
<ellipse cx="362.3" cy="123.5" rx="4.4" ry="2.35" transform="rotate(-47 362.3 123.5)" fill="#89ff00" stroke="#5a7a10" stroke-width="0.5" stroke-opacity="0.6"/>
<ellipse cx="362.3" cy="136.7" rx="4.4" ry="2.35" transform="rotate(-47 362.3 136.7)" fill="#89ff00" stroke="#5a7a10" stroke-width="0.5" stroke-opacity="0.6"/>
<ellipse cx="362.3" cy="149.6" rx="4.4" ry="2.35" transform="rotate(-47 362.3 149.6)" fill="#89ff00" stroke="#5a7a10" stroke-width="0.5" stroke-opacity="0.6"/>
<ellipse cx="388.1" cy="110.9" rx="4.4" ry="2.35" transform="rotate(-47 388.1 110.9)" fill="#beff00" stroke="#5a7a10" stroke-width="0.5" stroke-opacity="0.6"/>
<ellipse cx="388.1" cy="123.5" rx="4.4" ry="2.35" transform="rotate(-47 388.1 123.5)" fill="#beff00" stroke="#5a7a10" stroke-width="0.5" stroke-opacity="0.6"/>
<ellipse cx="388.1" cy="136.7" rx="4.4" ry="2.35" transform="rotate(-47 388.1 136.7)" fill="#beff00" stroke="#5a7a10" stroke-width="0.5" stroke-opacity="0.6"/>
<ellipse cx="388.1" cy="149.6" rx="4.4" ry="2.35" transform="rotate(-47 388.1 149.6)" fill="#89ff00" stroke="#5a7a10" stroke-width="0.5" stroke-opacity="0.6"/>
<ellipse cx="413.8" cy="110.9" rx="4.4" ry="2.35" transform="rotate(-47 413.8 110.9)" fill="#beff00" stroke="#5a7a10" stroke-width="0.5" stroke-opacity="0.6"/>
<ellipse cx="413.8" cy="123.5" rx="4.4" ry="2.35" transform="rotate(-47 413.8 123.5)" fill="#beff00" stroke="#5a7a10" stroke-width="0.5" stroke-opacity="0.6"/>
<ellipse cx="413.8" cy="136.7" rx="4.4" ry="2.35" transform="rotate(-47 413.8 136.7)" fill="#beff00" stroke="#5a7a10" stroke-width="0.5" stroke-opacity="0.6"/>
<ellipse cx="413.8" cy="149.6" rx="4.4" ry="2.35" transform="rotate(-47 413.8 149.6)" fill="#beff00" stroke="#5a7a10" stroke-width="0.5" stroke-opacity="0.6"/>
<ellipse cx="439.5" cy="110.9" rx="4.4" ry="2.35" transform="rotate(-47 439.5 110.9)" fill="#beff00" stroke="#5a7a10" stroke-width="0.5" stroke-opacity="0.6"/>
<ellipse cx="439.5" cy="123.5" rx="4.4" ry="2.35" transform="rotate(-47 439.5 123.5)" fill="#beff00" stroke="#5a7a10" stroke-width="0.5" stroke-opacity="0.6"/>
<ellipse cx="439.5" cy="136.7" rx="4.4" ry="2.35" transform="rotate(-47 439.5 136.7)" fill="#beff00" stroke="#5a7a10" stroke-width="0.5" stroke-opacity="0.6"/>
<ellipse cx="439.5" cy="149.6" rx="4.4" ry="2.35" transform="rotate(-47 439.5 149.6)" fill="#e1ff00" stroke="#5a7a10" stroke-width="0.5" stroke-opacity="0.6"/>
<ellipse cx="465.2" cy="110.9" rx="4.4" ry="2.35" transform="rotate(-47 465.2 110.9)" fill="#e1ff00" stroke="#5a7a10" stroke-width="0.5" stroke-opacity="0.6"/>
<ellipse cx="465.2" cy="123.5" rx="4.4" ry="2.35" transform="rotate(-47 465.2 123.5)" fill="#e1ff00" stroke="#5a7a10" stroke-width="0.5" stroke-opacity="0.6"/>
<ellipse cx="465.2" cy="136.7" rx="4.4" ry="2.35" transform="rotate(-47 465.2 136.7)" fill="#e1ff00" stroke="#5a7a10" stroke-width="0.5" stroke-opacity="0.6"/>
<ellipse cx="465.2" cy="149.6" rx="4.4" ry="2.35" transform="rotate(-47 465.2 149.6)" fill="#e1ff00" stroke="#5a7a10" stroke-width="0.5" stroke-opacity="0.6"/>
<ellipse cx="491" cy="110.9" rx="4.4" ry="2.35" transform="rotate(-47 491 110.9)" fill="#e1ff00" stroke="#5a7a10" stroke-width="0.5" stroke-opacity="0.6"/>
<ellipse cx="491" cy="123.5" rx="4.4" ry="2.35" transform="rotate(-47 491 123.5)" fill="#e1ff00" stroke="#5a7a10" stroke-width="0.5" stroke-opacity="0.6"/>
<ellipse cx="491" cy="136.7" rx="4.4" ry="2.35" transform="rotate(-47 491 136.7)" fill="#e1ff00" stroke="#5a7a10" stroke-width="0.5" stroke-opacity="0.6"/>
<ellipse cx="491" cy="149.6" rx="4.4" ry="2.35" transform="rotate(-47 491 149.6)" fill="#e1ff00" stroke="#5a7a10" stroke-width="0.5" stroke-opacity="0.6"/>
<ellipse cx="516.7" cy="110.9" rx="4.4" ry="2.35" transform="rotate(-47 516.7 110.9)" fill="#fff500" stroke="#5a7a10" stroke-width="0.5" stroke-opacity="0.6"/>
<ellipse cx="516.7" cy="123.5" rx="4.4" ry="2.35" transform="rotate(-47 516.7 123.5)" fill="#fff500" stroke="#5a7a10" stroke-width="0.5" stroke-opacity="0.6"/>
<ellipse cx="516.7" cy="136.7" rx="4.4" ry="2.35" transform="rotate(-47 516.7 136.7)" fill="#fff500" stroke="#5a7a10" stroke-width="0.5" stroke-opacity="0.6"/>
<ellipse cx="516.7" cy="149.6" rx="4.4" ry="2.35" transform="rotate(-47 516.7 149.6)" fill="#fff500" stroke="#5a7a10" stroke-width="0.5" stroke-opacity="0.6"/>
</g>
<g id="plateBL" clip-path="url(#cpBL)">
<rect x="92" y="265.1" width="216.2" height="63.7" fill="#00ff00"/>
<path fill="#00ff53" d="M92 290L98 290L98 300L92 300Z"/>
<path fill="#00ff89" d="M92 300L98 300L98 312L92 312Z"/>
<path fill="#00ffb7" d="M92 312L98 312L98 328.8L92 328.8Z"/>
<path fill="#53ff00" d="M143.6 265.1L213.5 265.1L213.5 272L143.6 272Z"/>
<path fill="#89ff00" d="M213.5 265.1L308.2 265.1L308.2 272L213.5 272Z"/>
<path fill="#beff00" d="M302.5 265.1L308.2 265.1L308.2 307.6L302.5 307.6Z"/>
<path fill="#e1ff00" d="M302.5 307.6L308.2 307.6L308.2 328.8L302.5 328.8Z"/>
<path fill="#00ffb7" d="M121.7 322L140 322L140 328.8L121.7 328.8Z"/>
<path fill="#00ff89" d="M140 322L165 322L165 328.8L140 328.8Z"/>
<path fill="#00ff53" d="M165 322L178 322L178 328.8L165 328.8Z"/>
<path fill="#53ff00" d="M203.6 322L234 322L234 328.8L203.6 328.8Z"/>
<path fill="#89ff00" d="M234 322L265.6 322L265.6 328.8L234 328.8Z"/>
<path fill="#beff00" d="M265.6 322L289.4 322L289.4 328.8L265.6 328.8Z"/>
<path fill="#e1ff00" d="M289.4 322L302.5 322L302.5 328.8L289.4 328.8Z"/>
<g clip-path="url(#ccBL)">
<rect x="92" y="265.1" width="216.2" height="63.7" fill="#87fa00"/>
<path fill="#55f800" d="M295.4 259C295.4 261.3 295.1 258.4 295.4 266C295.7 273.6 297.1 271.2 296.4 281.8C295.7 292.4 296.4 287.8 293.4 297.7C290.4 307.6 290.8 303.7 287.5 311.6C284.2 319.5 285.3 315 283.5 321.5C281.7 328 282.5 327.8 282 331L60 340L60 255Z"/>
<path fill="#00f400" d="M266 264C266.2 266.5 265.4 264.2 266.6 271.5C267.8 278.8 269.3 275.7 269.6 285.8C269.9 295.9 269.9 291.8 267.6 301.7C265.3 311.6 265 309 262.7 315.6C260.4 322.2 261.9 316.4 260.7 321.5C259.5 326.6 259.6 327.8 259 331L60 340L60 255Z"/>
<path fill="#00f02a" d="M222 264C222.3 266.5 217.7 265.2 223 271.5C228.3 277.8 230.7 275.8 238 283C245.3 290.2 242 286.3 245 293C248 299.7 247.3 295.3 247 303C246.7 310.7 245.3 309.5 244 316C242.7 322.5 243.3 317.5 243 322.5C242.7 327.5 243 328.2 243 331L60 340L60 255Z"/>
<path fill="#00f276" d="M204 264C204.5 266.5 198.6 265.2 205.6 271.5C212.6 277.8 216 276.2 225 283C234 289.8 228.8 285.7 232.5 292C236.2 298.3 235.2 292 236 302C236.8 312 235.3 312.3 235 322C234.7 331.7 235 328 235 331L60 340L60 255Z"/>
<path fill="#00f2a3" d="M168 264C168.6 266.5 162.6 265.6 169.8 271.5C177 277.4 178.4 273.7 189.7 281.8C201 289.9 196.3 285.8 203.6 295.7C210.9 305.6 208.2 302.7 211.5 311.6C214.8 320.5 212.8 316 213.5 322.5C214.2 329 213.5 328.2 213.5 331L60 340L60 255Z"/>
<path fill="#00edc6" d="M90 270C92.3 270.2 87 269.2 97 270.5C107 271.8 102.3 270.9 120 274C137.7 277.1 134.7 275.3 150 279.9C165.3 284.5 157.3 280.5 165.9 287.8C174.5 295.1 171.2 292.4 175.8 301.7C180.4 311 178.5 308.7 179.8 315.6C181.1 322.5 179.8 317.4 179.8 322.5C179.8 327.6 179.8 328.2 179.8 331L60 340Z"/>
<path fill="#00e4f0" d="M90 283C92.6 283 88 282.1 97.9 283C107.8 283.9 105.9 283.3 119.8 285.8C133.7 288.3 128.9 287.1 139.6 290.5C150.3 293.9 145.2 291.2 152 296C158.8 300.8 155.8 298.7 160 305C164.2 311.3 162.7 309.2 164.5 315C166.3 320.8 165.2 317.2 165.5 322.5C165.8 327.8 165.5 328.2 165.5 331L60 340Z"/>
<path fill="#00b9f8" d="M90 307C92.6 306.9 91.3 308 97.9 306.6C104.5 305.2 102.4 304 109.8 302.7C117.2 301.4 113.4 302 120 302.7C126.6 303.4 123.2 301.7 129.7 304.7C136.2 307.7 135.3 306.7 139.6 311.6C143.9 316.5 141.6 313 142.6 319.5C143.6 326 142.6 327.2 142.6 331L60 340Z"/>
<path fill="#00a4f7" d="M90 317C92.6 316.9 92.6 317.4 97.9 316.6C103.2 315.8 101 315.2 106 314.5C111 313.8 109 313.5 113 314.5C117 315.5 115.1 314.5 118 317.5C120.9 320.5 120.4 319 121.7 323.5C123 328 121.9 328.5 122 331L60 340Z"/>
<path fill="#008cf6" d="M104 335C104.3 332.9 103.8 333 105 328.8C106.2 324.6 105.7 325.8 107.5 322.5C109.3 319.2 108.5 318.8 110.5 318.8C112.5 318.8 111.3 319.2 113.5 322.5C115.7 325.8 115.7 324.6 117 328.8C118.3 333 117.3 332.9 117.5 335Z"/>
</g>
<path d="M99.9 271.5H275Q277 271.5 277 269.5V263.1H302.8V320.5Q302.8 322.5 300.8 322.5H123.7Q121.7 322.5 121.7 324.5V330.8H97.9V273.5Q97.9 271.5 99.9 271.5Z" fill="none" stroke="#3c8c28" stroke-width="0.6" stroke-opacity="0.55"/>
<rect x="107.7" y="274.7" width="5.6" height="5.6" fill="#00ff53" stroke="#5a7a10" stroke-width="0.5" stroke-opacity="0.6"/>
<rect x="107.7" y="287.6" width="5.6" height="5.6" fill="#00ff89" stroke="#5a7a10" stroke-width="0.5" stroke-opacity="0.6"/>
<rect x="107.7" y="300.5" width="5.6" height="5.6" fill="#00ff89" stroke="#5a7a10" stroke-width="0.5" stroke-opacity="0.6"/>
<rect x="107.7" y="313.2" width="5.6" height="5.6" fill="#00ffb7" stroke="#5a7a10" stroke-width="0.5" stroke-opacity="0.6"/>
<rect x="133.2" y="274.7" width="5.6" height="5.6" fill="#00ff53" stroke="#5a7a10" stroke-width="0.5" stroke-opacity="0.6"/>
<rect x="133.2" y="287.6" width="5.6" height="5.6" fill="#00ff53" stroke="#5a7a10" stroke-width="0.5" stroke-opacity="0.6"/>
<rect x="133.2" y="300.5" width="5.6" height="5.6" fill="#00ff89" stroke="#5a7a10" stroke-width="0.5" stroke-opacity="0.6"/>
<rect x="133.2" y="313.2" width="5.6" height="5.6" fill="#00ff89" stroke="#5a7a10" stroke-width="0.5" stroke-opacity="0.6"/>
<rect x="158.8" y="274.7" width="5.6" height="5.6" fill="#00ff00" stroke="#5a7a10" stroke-width="0.5" stroke-opacity="0.6"/>
<rect x="158.8" y="287.6" width="5.6" height="5.6" fill="#00ff53" stroke="#5a7a10" stroke-width="0.5" stroke-opacity="0.6"/>
<rect x="158.8" y="300.5" width="5.6" height="5.6" fill="#00ff53" stroke="#5a7a10" stroke-width="0.5" stroke-opacity="0.6"/>
<rect x="158.8" y="313.2" width="5.6" height="5.6" fill="#00ff53" stroke="#5a7a10" stroke-width="0.5" stroke-opacity="0.6"/>
<rect x="184.3" y="274.7" width="5.6" height="5.6" fill="#89ff00" stroke="#5a7a10" stroke-width="0.5" stroke-opacity="0.6"/>
<rect x="184.3" y="287.6" width="5.6" height="5.6" fill="#00ff00" stroke="#5a7a10" stroke-width="0.5" stroke-opacity="0.6"/>
<rect x="184.3" y="300.5" width="5.6" height="5.6" fill="#00ff00" stroke="#5a7a10" stroke-width="0.5" stroke-opacity="0.6"/>
<rect x="184.3" y="313.2" width="5.6" height="5.6" fill="#00ff00" stroke="#5a7a10" stroke-width="0.5" stroke-opacity="0.6"/>
<rect x="209.9" y="274.7" width="5.6" height="5.6" fill="#89ff00" stroke="#5a7a10" stroke-width="0.5" stroke-opacity="0.6"/>
<rect x="209.9" y="287.6" width="5.6" height="5.6" fill="#53ff00" stroke="#5a7a10" stroke-width="0.5" stroke-opacity="0.6"/>
<rect x="209.9" y="300.5" width="5.6" height="5.6" fill="#53ff00" stroke="#5a7a10" stroke-width="0.5" stroke-opacity="0.6"/>
<rect x="209.9" y="313.2" width="5.6" height="5.6" fill="#53ff00" stroke="#5a7a10" stroke-width="0.5" stroke-opacity="0.6"/>
<rect x="235.4" y="274.7" width="5.6" height="5.6" fill="#89ff00" stroke="#5a7a10" stroke-width="0.5" stroke-opacity="0.6"/>
<rect x="235.4" y="287.6" width="5.6" height="5.6" fill="#89ff00" stroke="#5a7a10" stroke-width="0.5" stroke-opacity="0.6"/>
<rect x="235.4" y="300.5" width="5.6" height="5.6" fill="#89ff00" stroke="#5a7a10" stroke-width="0.5" stroke-opacity="0.6"/>
<rect x="235.4" y="313.2" width="5.6" height="5.6" fill="#89ff00" stroke="#5a7a10" stroke-width="0.5" stroke-opacity="0.6"/>
<rect x="261" y="274.7" width="5.6" height="5.6" fill="#beff00" stroke="#5a7a10" stroke-width="0.5" stroke-opacity="0.6"/>
<rect x="261" y="287.6" width="5.6" height="5.6" fill="#89ff00" stroke="#5a7a10" stroke-width="0.5" stroke-opacity="0.6"/>
<rect x="261" y="300.5" width="5.6" height="5.6" fill="#89ff00" stroke="#5a7a10" stroke-width="0.5" stroke-opacity="0.6"/>
<rect x="261" y="313.2" width="5.6" height="5.6" fill="#beff00" stroke="#5a7a10" stroke-width="0.5" stroke-opacity="0.6"/>
<rect x="286.6" y="274.7" width="5.6" height="5.6" fill="#beff00" stroke="#5a7a10" stroke-width="0.5" stroke-opacity="0.6"/>
<rect x="286.6" y="287.6" width="5.6" height="5.6" fill="#beff00" stroke="#5a7a10" stroke-width="0.5" stroke-opacity="0.6"/>
<rect x="286.6" y="300.5" width="5.6" height="5.6" fill="#e1ff00" stroke="#5a7a10" stroke-width="0.5" stroke-opacity="0.6"/>
<rect x="286.6" y="313.2" width="5.6" height="5.6" fill="#e1ff00" stroke="#5a7a10" stroke-width="0.5" stroke-opacity="0.6"/>
</g>
<g id="plateBR" clip-path="url(#cpBR)">
<rect x="318" y="265.1" width="216.3" height="63.4" fill="#beff00"/>
<path fill="#89ff00" d="M318 278L324 278L324 284L318 284Z"/>
<path fill="#53ff00" d="M318 284L324 284L324 292L318 292Z"/>
<path fill="#00ff00" d="M318 292L324 292L324 298.5L318 298.5Z"/>
<path fill="#00ff53" d="M318 298.5L324 298.5L324 302L318 302Z"/>
<path fill="#00ff89" d="M318 302L324 302L324 328.5L318 328.5Z"/>
<path fill="#e1ff00" d="M528 265.1L534.3 265.1L534.3 300L528 300Z"/>
<path fill="#fff500" d="M528 300L534.3 300L534.3 328.5L528 328.5Z"/>
<path fill="#00ff89" d="M349 322L380 322L380 328.5L349 328.5Z"/>
<path fill="#00ff53" d="M380 322L388 322L388 328.5L380 328.5Z"/>
<path fill="#00ff00" d="M388 322L399.8 322L399.8 328.5L388 328.5Z"/>
<path fill="#53ff00" d="M399.8 322L455 322L455 328.5L399.8 328.5Z"/>
<path fill="#89ff00" d="M455 322L474 322L474 328.5L455 328.5Z"/>
<path fill="#e1ff00" d="M490 322L512 322L512 328.5L490 328.5Z"/>
<path fill="#fff500" d="M512 322L528 322L528 328.5L512 328.5Z"/>
<g clip-path="url(#ccBR)">
<rect x="318" y="265.1" width="216.3" height="63.4" fill="#beff00"/>
<path fill="#87fa00" d="M525.4 259C525.4 266.6 526.1 267.6 525.4 281.8C524.7 296 526 290.4 523.4 301.7C520.8 313 520.8 309 517.5 315.6C514.2 322.2 515.3 316.4 513.5 321.5C511.7 326.6 512.5 327.8 512 331L290 340L290 255Z"/>
<path fill="#55f800" d="M517.5 259C517.5 261 516.9 257.4 517.5 265C518.1 272.6 520.7 270.9 519.4 281.8C518.1 292.7 518.1 287.8 513.5 297.7C508.9 307.6 510.2 303.7 505.6 311.6C501 319.5 502.1 315 499.6 321.5C497.1 328 498.5 327.8 498 331L290 340L290 255Z"/>
<path fill="#00f400" d="M486 264C486.2 266.5 484.5 265.6 486.7 271.5C488.9 277.4 491.7 273.7 492.7 281.8C493.7 289.9 494 286.4 489.7 295.7C485.4 305 485.8 301 479.8 309.6C473.8 318.2 475.1 314.4 471.8 321.5C468.5 328.6 470.6 327.8 470 331L290 340L290 255Z"/>
<path fill="#00f02a" d="M452 264C452.3 266.6 449.7 265.9 453 271.9C456.3 277.9 456.7 275.6 462 282C467.3 288.4 465.7 285.3 469 291C472.3 296.7 472.7 293.3 472 299C471.3 304.7 471 302 467 308C463 314 463.5 312.2 460 317C456.5 321.8 457.8 317.8 456.5 322.5C455.2 327.2 456.2 328.2 456 331L290 340L290 255Z"/>
<path fill="#00f276" d="M440 264C440.5 266.6 438.4 266 441.5 271.9C444.6 277.8 444.6 275.8 449.4 281.8C454.2 287.8 452.5 284.3 456 290C459.5 295.7 460.3 293.3 460 299C459.7 304.7 458.7 301.3 455 307C451.3 312.7 452.2 310.8 449 316C445.8 321.2 446.8 317.5 445.5 322.5C444.2 327.5 445.2 328.2 445 331L290 340L290 255Z"/>
<path fill="#00f2a3" d="M414 264C414.6 266.6 410.5 265.3 415.7 271.9C420.9 278.5 421.7 275.9 429.6 283.8C437.5 291.7 436.9 287.1 439.5 295.7C442.1 304.3 439.5 301 437.5 309.6C435.5 318.2 435.1 314.4 433.6 321.5C432.1 328.6 433.2 327.8 433 331L290 340L290 255Z"/>
<path fill="#00edc6" d="M390 264C390.6 266.6 386.6 265.3 391.9 271.9C397.2 278.5 397.9 275.2 405.8 283.8C413.7 292.4 411.7 289.8 415.7 297.7C419.7 305.6 418.4 299.7 417.7 307.6C417 315.5 415.3 313.7 413.7 321.5C412.1 329.3 413.2 327.8 413 331L290 340L290 255Z"/>
<path fill="#00e4f0" d="M316 284C318.6 283.9 314 284.1 323.9 283.8C333.8 283.5 331.9 283.3 345.8 283C359.7 282.7 354.2 281.4 365.6 283C377 284.6 371.9 282.9 380 287.8C388.1 292.7 385.3 291.1 389.9 297.7C394.5 304.3 393.9 299.7 393.9 307.6C393.9 315.5 391.5 313.7 389.9 321.5C388.3 329.3 389.3 327.8 389 331L290 340Z"/>
<path fill="#00b9f8" d="M316 306.6C318.6 306.5 318.9 306.9 323.9 306.3C328.9 305.7 324.6 305.6 331 304.8C337.4 304 335.7 303.7 343 303.8C350.3 303.9 347.5 303.4 353 305C358.5 306.6 356.7 305.9 359.5 308.6C362.3 311.3 361.5 309.7 361.5 313C361.5 316.3 361.7 315.3 359.5 318.5C357.3 321.7 357.8 320.3 355 322.5C352.2 324.7 353 322.2 351 325C349 327.8 349.7 329 349 331L290 340Z"/>
<path fill="#00a4f7" d="M316 316C318.6 315.8 318.6 315.9 323.9 315.5C329.2 315.1 326.3 314.8 332 314.8C337.7 314.8 336.7 314.1 341 315.5C345.3 316.9 342.7 316.5 345 319C347.3 321.5 346.7 319 348 323C349.3 327 348.7 328.3 349 331L290 340Z"/>
<path fill="#008cf6" d="M329.5 335C329.9 332.9 329.3 332.4 330.6 328.6C331.9 324.8 331.4 326.3 333.5 323.5C335.6 320.7 334.5 320.3 337 320.3C339.5 320.3 337.6 320.7 341 323.5C344.4 326.3 345 324.8 347.2 328.6C349.4 332.4 347.4 332.9 347.5 335Z"/>
</g>
<path d="M325.7 271.7H501.7Q503.7 271.7 503.7 269.7V263.1H528.2V320.5Q528.2 322.5 526.2 322.5H351Q349 322.5 349 324.5V330.5H323.7V273.7Q323.7 271.7 325.7 271.7Z" fill="none" stroke="#3c8c28" stroke-width="0.6" stroke-opacity="0.55"/>
<path d="M332.4 275.4h8.8l-4.4 7.1Z" fill="#89ff00" stroke="#5a7a10" stroke-width="0.5" stroke-opacity="0.6"/>
<path d="M332.4 288.3h8.8l-4.4 7.1Z" fill="#00ff00" stroke="#5a7a10" stroke-width="0.5" stroke-opacity="0.6"/>
<path d="M332.4 301.2h8.8l-4.4 7.1Z" fill="#00ff89" stroke="#5a7a10" stroke-width="0.5" stroke-opacity="0.6"/>
<path d="M332.4 314.1h8.8l-4.4 7.1Z" fill="#00ffb7" stroke="#5a7a10" stroke-width="0.5" stroke-opacity="0.6"/>
<path d="M357.9 275.4h8.8l-4.4 7.1Z" fill="#89ff00" stroke="#5a7a10" stroke-width="0.5" stroke-opacity="0.6"/>
<path d="M357.9 288.3h8.8l-4.4 7.1Z" fill="#00ff00" stroke="#5a7a10" stroke-width="0.5" stroke-opacity="0.6"/>
<path d="M357.9 301.2h8.8l-4.4 7.1Z" fill="#00ff53" stroke="#5a7a10" stroke-width="0.5" stroke-opacity="0.6"/>
<path d="M357.9 314.1h8.8l-4.4 7.1Z" fill="#00ff89" stroke="#5a7a10" stroke-width="0.5" stroke-opacity="0.6"/>
<path d="M383.4 275.4h8.8l-4.4 7.1Z" fill="#89ff00" stroke="#5a7a10" stroke-width="0.5" stroke-opacity="0.6"/>
<path d="M383.4 288.3h8.8l-4.4 7.1Z" fill="#00ff00" stroke="#5a7a10" stroke-width="0.5" stroke-opacity="0.6"/>
<path d="M383.4 301.2h8.8l-4.4 7.1Z" fill="#00ff00" stroke="#5a7a10" stroke-width="0.5" stroke-opacity="0.6"/>
<path d="M383.4 314.1h8.8l-4.4 7.1Z" fill="#00ff00" stroke="#5a7a10" stroke-width="0.5" stroke-opacity="0.6"/>
<path d="M408.9 275.4h8.8l-4.4 7.1Z" fill="#beff00" stroke="#5a7a10" stroke-width="0.5" stroke-opacity="0.6"/>
<path d="M408.9 288.3h8.8l-4.4 7.1Z" fill="#89ff00" stroke="#5a7a10" stroke-width="0.5" stroke-opacity="0.6"/>
<path d="M408.9 301.2h8.8l-4.4 7.1Z" fill="#89ff00" stroke="#5a7a10" stroke-width="0.5" stroke-opacity="0.6"/>
<path d="M408.9 314.1h8.8l-4.4 7.1Z" fill="#89ff00" stroke="#5a7a10" stroke-width="0.5" stroke-opacity="0.6"/>
<path d="M434.4 275.4h8.8l-4.4 7.1Z" fill="#beff00" stroke="#5a7a10" stroke-width="0.5" stroke-opacity="0.6"/>
<path d="M434.4 288.3h8.8l-4.4 7.1Z" fill="#89ff00" stroke="#5a7a10" stroke-width="0.5" stroke-opacity="0.6"/>
<path d="M434.4 301.2h8.8l-4.4 7.1Z" fill="#89ff00" stroke="#5a7a10" stroke-width="0.5" stroke-opacity="0.6"/>
<path d="M434.4 314.1h8.8l-4.4 7.1Z" fill="#beff00" stroke="#5a7a10" stroke-width="0.5" stroke-opacity="0.6"/>
<path d="M459.9 275.4h8.8l-4.4 7.1Z" fill="#beff00" stroke="#5a7a10" stroke-width="0.5" stroke-opacity="0.6"/>
<path d="M459.9 288.3h8.8l-4.4 7.1Z" fill="#beff00" stroke="#5a7a10" stroke-width="0.5" stroke-opacity="0.6"/>
<path d="M459.9 301.2h8.8l-4.4 7.1Z" fill="#beff00" stroke="#5a7a10" stroke-width="0.5" stroke-opacity="0.6"/>
<path d="M459.9 314.1h8.8l-4.4 7.1Z" fill="#beff00" stroke="#5a7a10" stroke-width="0.5" stroke-opacity="0.6"/>
<path d="M485.4 275.4h8.8l-4.4 7.1Z" fill="#e1ff00" stroke="#5a7a10" stroke-width="0.5" stroke-opacity="0.6"/>
<path d="M485.4 288.3h8.8l-4.4 7.1Z" fill="#e1ff00" stroke="#5a7a10" stroke-width="0.5" stroke-opacity="0.6"/>
<path d="M485.4 301.2h8.8l-4.4 7.1Z" fill="#e1ff00" stroke="#5a7a10" stroke-width="0.5" stroke-opacity="0.6"/>
<path d="M485.4 314.1h8.8l-4.4 7.1Z" fill="#e1ff00" stroke="#5a7a10" stroke-width="0.5" stroke-opacity="0.6"/>
<path d="M510.9 275.4h8.8l-4.4 7.1Z" fill="#e1ff00" stroke="#5a7a10" stroke-width="0.5" stroke-opacity="0.6"/>
<path d="M510.9 288.3h8.8l-4.4 7.1Z" fill="#e1ff00" stroke="#5a7a10" stroke-width="0.5" stroke-opacity="0.6"/>
<path d="M510.9 301.2h8.8l-4.4 7.1Z" fill="#e1ff00" stroke="#5a7a10" stroke-width="0.5" stroke-opacity="0.6"/>
<path d="M510.9 314.1h8.8l-4.4 7.1Z" fill="#fff500" stroke="#5a7a10" stroke-width="0.5" stroke-opacity="0.6"/>
</g>
</svg>
</body>
</html>
